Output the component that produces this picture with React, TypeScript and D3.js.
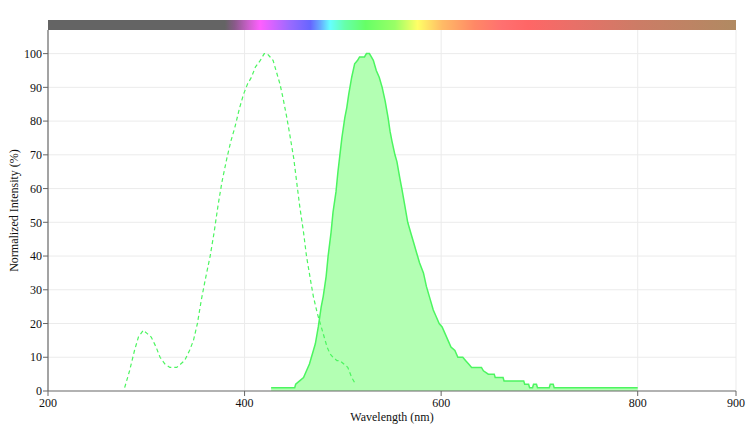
import React from "react";
import * as d3 from "d3";

// Excitation spectrum (dashed): [wavelength nm, normalized %]
const excitationWl = [278,283,288,292,297,301,305,310,314,319,324,331,335,339,344,348,352,356,360,365,369,373,377,382,386,390,395,399,403,407,411,416,420,423,426,429,432,436,439,443,446,450,453,456,460,463,467,470,474,477,481,484,487,490,494,497,501,505,509,513];
const excitationVal = [1,6,12,16,18,17,16,13,10,8,7,7,8,9,12,15,20,27,33,40,47,55,62,69,74,78,84,88,91,93,96,98,100,100,99,98,95,91,87,81,76,69,62,55,47,40,33,28,23,20,16,13,11,10,9,9,8,7,4,2];

// Emission spectrum (filled)
const emissionWl = [427,451,452,456,460,463,466,468,470,472,475,478,480,483,485,488,490,493,495,497,499,502,504,506,509,512,515,517,520,522,524,527,529,531,534,537,540,543,546,548,550,553,555,558,560,563,566,569,572,575,578,582,585,589,592,595,598,601,604,607,610,614,617,622,625,628,631,641,643,648,654,655,663,664,684,685,689,690,693,694,697,698,710,711,714,715,800];
const emissionVal = [1,1,2,3,4,6,8,10,12,14,19,25,28,34,40,47,53,59,65,70,75,81,84,88,93,97,98,99,99,99,100,100,99,98,95,93,90,86,81,77,74,70,68,63,60,55,50,47,44,41,38,35,31,27,24,22,20,19,17,15,13,12,10,10,9,8,7,7,6,5,5,4,4,3,3,2,2,1,1,2,2,1,1,2,2,1,1];

const xTicks = [200, 400, 600, 800, 900];
const yTicks = [0, 10, 20, 30, 40, 50, 60, 70, 80, 90, 100];

// Spectrum colour bar stops
const barWl = [200, 380, 390, 405, 416, 446, 467, 477, 487, 502, 523, 553, 576, 601, 634, 662, 688, 736, 800, 900];
const barColors = ["#646464", "#646464", "#8a5a8a", "#d060d0", "#ff5fff", "#9a6aff", "#6666ff", "#66aaff", "#66ffff", "#66ffaa", "#66ff66", "#99ff66", "#ffff66", "#ffbb66", "#ff8866", "#ff7070", "#ff6666", "#e87068", "#cc7c66", "#b08a62"];

const W = 750, H = 426;
const L = 48, R = 736, T = 30, B = 391;
const FONT = "'Times New Roman', Times, Tinos, 'Noto Serif', 'Liberation Serif', serif";

export default function App() {
  const x = d3.scaleLinear().domain([200, 900]).range([L, R]);
  const y = d3.scaleLinear().domain([0, 107]).range([B, T]);

  const exData = excitationWl.map((w, i) => [w, excitationVal[i]] as [number, number]);
  const emData = emissionWl.map((w, i) => [w, emissionVal[i]] as [number, number]);

  const line = d3.line<[number, number]>().x(d => x(d[0])).y(d => y(d[1]));
  const area = d3.area<[number, number]>().x(d => x(d[0])).y0(y(0)).y1(d => y(d[1]));

  const txt = { fontFamily: FONT, fontSize: "12px" };

  return (
    <svg width={W} height={H} style={{ position: "absolute", left: 0, top: 0, background: "#fff", fontFamily: FONT }}>
      <defs>
        <linearGradient id="spec" gradientUnits="userSpaceOnUse" x1={x(200)} x2={x(900)} y1={0} y2={0}>
          {barWl.map((w, i) => (
            <stop key={i} offset={(w - 200) / 700} stopColor={barColors[i]} />
          ))}
        </linearGradient>
      </defs>
      <rect x={L} y={20} width={R - L} height={10} fill="url(#spec)" />

      {/* grid */}
      {yTicks.filter(t => t > 0).map(t => (
        <line key={"gy" + t} x1={L} x2={R} y1={y(t)} y2={y(t)} stroke="#ebebeb" strokeWidth={1} />
      ))}
      {xTicks.filter(t => t > 200).map(t => (
        <line key={"gx" + t} x1={x(t)} x2={x(t)} y1={T} y2={B} stroke="#ebebeb" strokeWidth={1} />
      ))}

      {/* emission */}
      <path d={area(emData) || ""} fill="rgb(179,255,179)" stroke="none" />
      <path d={line(emData) || ""} fill="none" stroke="#4cf560" strokeWidth={1.5} />

      {/* excitation */}
      <path d={line(exData) || ""} fill="none" stroke="#4cf560" strokeWidth={1.2} strokeDasharray="4,3" />

      {/* axes */}
      <line x1={L} x2={L} y1={T} y2={B} stroke="#666" strokeWidth={1.2} />
      <line x1={L} x2={R} y1={B} y2={B} stroke="#666" strokeWidth={1.2} />
      {yTicks.map(t => (
        <g key={"ty" + t}>
          <line x1={L - 5} x2={L} y1={y(t)} y2={y(t)} stroke="#666" />
          <text x={L - 6} y={y(t)} dy="0.35em" textAnchor="end" style={txt} fill="#111">{t}</text>
        </g>
      ))}
      {xTicks.map(t => (
        <g key={"tx" + t}>
          <line x1={x(t)} x2={x(t)} y1={B} y2={B + 5} stroke="#666" />
          <text x={x(t)} y={B + 16} textAnchor="middle" style={txt} fill="#111">{t}</text>
        </g>
      ))}
      <text x={(L + R) / 2} y={421} textAnchor="middle" style={txt} fill="#111">Wavelength (nm)</text>
      <text transform={`translate(18,${(T + B) / 2}) rotate(-90)`} textAnchor="middle" style={txt} fill="#111">Normalized Intensity (%)</text>
    </svg>
  );
}
